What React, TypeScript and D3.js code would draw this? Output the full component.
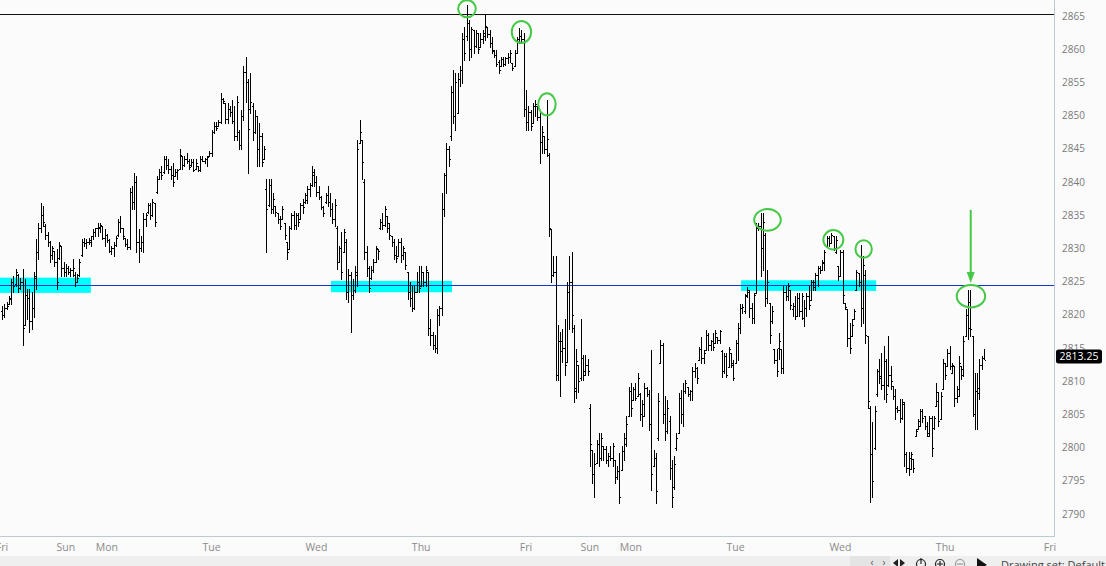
import React from "react";
import * as d3 from "d3";

type OHLC = [number, number, number, number]; // open, high, low, close

// 30-minute bars, Fri (week 1) .. Mon morning
const barsFriToMon: OHLC[] = [
  [2820.5,2821.4,2819.4,2820.0],[2820.0,2821.6,2819.6,2821.0],[2821.0,2821.9,2820.9,2821.4],[2821.6,2822.9,2821.6,2822.6],
  [2822.4,2825.4,2821.6,2824.9],[2824.9,2825.9,2823.4,2824.4],[2824.6,2826.9,2824.4,2826.4],[2826.0,2826.1,2823.4,2824.0],
  [2824.0,2825.6,2823.9,2825.0],[2825.0,2826.9,2815.4,2818.0],[2818.5,2825.4,2818.4,2823.0],[2823.0,2823.9,2819.4,2822.5],
  [2822.5,2823.9,2817.4,2819.0],[2819.0,2823.4,2817.9,2821.0],[2821.0,2826.4,2819.6,2825.9],[2825.5,2831.4,2823.9,2829.5],
  [2829.5,2833.9,2828.4,2833.0],[2833.0,2836.9,2832.4,2835.0],[2835.0,2836.4,2833.4,2834.0],[2833.4,2833.6,2831.4,2832.0],
  [2832.0,2832.4,2830.4,2831.0],[2831.0,2831.1,2827.9,2829.0],[2829.0,2830.4,2828.4,2830.0],[2829.6,2829.6,2827.4,2828.0],
  [2828.0,2829.9,2823.9,2825.0],[2828.5,2830.9,2828.4,2830.5],[2830.4,2830.4,2825.9,2827.0],[2827.0,2827.9,2825.9,2826.5],
  [2826.5,2827.6,2825.9,2827.0],[2827.0,2827.4,2826.1,2826.5],[2826.5,2827.1,2825.9,2826.8],[2826.8,2828.4,2825.9,2827.0],
  [2826.0,2826.4,2824.4,2825.0],[2825.0,2826.1,2824.9,2825.5],[2826.0,2828.4,2825.9,2828.0],[2829.0,2831.4,2828.9,2831.0],
  [2831.0,2831.6,2830.4,2830.8],[2830.8,2831.4,2830.1,2831.0],[2831.0,2831.6,2830.6,2831.3],[2831.0,2831.9,2830.4,2831.8],
  [2831.8,2832.9,2831.4,2832.5],[2832.5,2833.1,2831.9,2833.0],[2833.0,2833.9,2831.9,2833.2],[2833.0,2833.9,2832.4,2833.5],
  [2833.4,2833.4,2831.4,2831.6],[2831.6,2832.9,2830.4,2832.0],[2832.0,2832.1,2830.9,2831.2],[2831.2,2831.4,2829.4,2829.6],
  [2829.6,2830.4,2829.1,2830.0],[2830.0,2830.9,2828.9,2830.5],[2830.5,2831.9,2830.4,2831.5],[2832.0,2834.4,2831.9,2834.0],
  [2834.0,2834.9,2832.4,2833.0],[2833.0,2833.1,2831.4,2831.8],[2831.5,2831.6,2830.4,2830.6],[2830.6,2831.4,2829.9,2830.2],
  [2830.2,2839.1,2829.9,2838.5],[2838.5,2839.4,2835.9,2837.0],[2837.0,2841.4,2835.9,2840.0],[2840.0,2840.9,2829.4,2831.0],
  [2831.0,2832.9,2827.9,2830.0],[2830.0,2831.9,2829.6,2831.0],[2831.0,2835.4,2829.4,2834.5],[2834.5,2835.4,2833.4,2835.0],
  [2835.5,2836.9,2835.4,2836.5],[2836.5,2836.9,2834.4,2835.0],[2835.0,2837.4,2834.9,2837.0],[2836.9,2836.9,2833.4,2834.0],
  [2838.5,2840.9,2838.4,2840.5],[2840.5,2841.9,2840.4,2841.5],[2841.5,2842.4,2840.4,2841.0],[2841.5,2843.9,2841.4,2843.5],
  [2843.5,2843.9,2841.9,2842.5],[2842.5,2843.4,2841.4,2842.0],[2842.0,2842.4,2840.4,2841.0],[2841.0,2842.9,2839.4,2840.0],
  [2840.9,2841.9,2840.9,2841.5],[2841.5,2841.9,2840.4,2841.8],[2842.0,2844.9,2841.9,2844.0],[2843.9,2843.9,2841.9,2842.5],
  [2842.5,2843.9,2842.4,2843.5],[2843.5,2844.4,2842.9,2843.2],[2843.2,2843.4,2841.9,2842.3],[2842.5,2843.4,2842.4,2843.0],
  [2843.0,2843.4,2841.6,2841.8],[2842.0,2843.4,2841.9,2842.8],[2842.4,2842.4,2841.6,2841.8],[2841.8,2843.9,2841.6,2843.5],
  [2843.5,2843.9,2843.1,2843.2],[2843.2,2843.6,2842.9,2843.4],[2843.4,2843.9,2842.4,2843.7],[2843.9,2844.6,2843.9,2844.4],
  [2844.4,2847.9,2843.9,2847.5],[2847.5,2849.1,2847.4,2848.5],[2848.5,2849.1,2847.9,2848.2],[2848.4,2849.4,2848.4,2849.0],
  [2849.0,2853.4,2848.9,2852.5],[2852.5,2852.6,2851.9,2852.2],[2851.9,2851.9,2848.9,2849.5],[2849.5,2851.9,2848.9,2851.0],
  [2851.0,2851.4,2849.9,2850.5],[2850.5,2852.4,2848.9,2849.2],[2849.2,2851.4,2846.4,2847.0],[2847.0,2852.9,2846.4,2852.0],
  [2847.5,2847.9,2844.9,2845.5],[2845.5,2850.9,2844.9,2850.0],[2850.0,2857.4,2849.4,2856.5],[2856.5,2858.9,2852.0,2855.0],
  [2855.0,2855.5,2841.4,2848.0],
];

// Tue .. Thu (week 1)
const barsTueToThu: OHLC[] = [
  [2851.0,2856.4,2850.4,2852.0],[2851.5,2851.9,2846.4,2847.5],[2847.5,2850.9,2847.4,2850.0],[2849.9,2849.9,2842.4,2845.0],
  [2845.0,2848.9,2842.4,2847.0],[2847.0,2847.4,2842.4,2843.0],[2843.5,2845.4,2843.4,2845.0],[2839.0,2840.4,2829.4,2836.0],
  [2836.5,2840.4,2836.4,2839.5],[2839.5,2840.4,2835.4,2836.0],[2836.0,2838.4,2835.4,2837.5],[2836.4,2836.4,2834.9,2835.5],
  [2835.4,2835.4,2833.9,2834.5],[2834.5,2834.9,2832.9,2833.4],[2834.4,2836.4,2834.4,2836.0],[2833.9,2833.9,2831.4,2832.0],
  [2830.9,2830.9,2828.4,2829.5],[2829.9,2833.4,2829.9,2833.0],[2833.0,2835.4,2832.9,2835.0],[2835.0,2835.6,2832.9,2833.5],
  [2833.5,2835.4,2832.9,2835.0],[2835.0,2835.4,2833.4,2834.0],[2834.5,2836.9,2834.4,2836.5],[2836.5,2837.4,2835.4,2836.3],
  [2837.0,2838.4,2836.9,2838.0],[2837.3,2839.4,2836.9,2839.0],[2839.0,2839.9,2837.9,2839.5],[2839.5,2842.4,2839.4,2841.5],
  [2841.0,2841.9,2839.4,2840.0],[2840.0,2840.9,2837.9,2838.5],[2838.5,2839.4,2837.4,2837.8],[2837.8,2837.9,2835.9,2836.3],
  [2836.3,2836.4,2834.9,2835.3],[2837.0,2838.4,2836.9,2838.0],[2838.0,2839.4,2836.4,2837.0],[2837.0,2838.4,2834.9,2836.0],
  [2836.0,2836.9,2833.9,2834.5],[2834.5,2837.4,2833.4,2836.5],[2833.0,2833.4,2826.9,2828.0],[2828.0,2830.4,2827.9,2830.0],
  [2830.0,2832.4,2825.4,2826.5],[2829.5,2832.9,2829.4,2832.5],[2831.0,2831.4,2822.4,2823.5],[2823.5,2826.9,2821.9,2826.0],
  [2826.0,2826.4,2817.4,2823.0],[2823.0,2825.4,2822.4,2823.8],[2823.8,2827.4,2823.4,2826.5],[2826.0,2846.4,2824.4,2845.0],
  [2845.9,2849.4,2845.9,2847.5],[2846.4,2846.4,2840.4,2843.0],[2840.0,2840.4,2828.4,2829.5],[2829.5,2830.4,2825.9,2827.0],
  [2827.0,2827.4,2823.4,2824.0],[2825.5,2827.4,2825.4,2826.8],[2826.8,2828.4,2826.4,2828.0],[2828.0,2830.4,2827.9,2830.0],
  [2829.9,2829.9,2828.4,2829.6],[2833.0,2834.4,2832.9,2834.0],[2834.0,2835.4,2832.9,2833.5],[2833.5,2836.4,2833.4,2836.0],
  [2834.9,2834.9,2832.4,2833.0],[2833.9,2833.9,2831.4,2832.0],[2831.9,2831.9,2830.4,2831.0],[2831.0,2831.4,2828.4,2829.0],
  [2829.0,2830.4,2827.9,2828.5],[2828.9,2831.4,2828.9,2831.0],[2831.0,2831.6,2827.9,2829.0],[2829.0,2830.4,2828.4,2830.0],
  [2829.4,2829.4,2826.9,2827.5],[2826.4,2826.4,2822.4,2823.5],[2823.5,2824.9,2821.4,2822.5],[2822.5,2824.4,2820.6,2821.0],
  [2821.0,2824.4,2820.9,2823.5],[2823.5,2826.4,2823.4,2825.0],[2825.0,2827.4,2823.4,2824.0],[2824.4,2827.4,2824.4,2826.5],
  [2826.4,2826.4,2824.4,2825.0],[2825.0,2827.4,2824.4,2826.8],[2826.4,2826.4,2816.9,2818.0],[2818.0,2819.4,2815.4,2817.0],
  [2817.0,2817.4,2814.9,2815.5],[2815.5,2816.9,2814.4,2815.0],[2815.0,2820.9,2814.2,2820.0],[2820.0,2821.4,2818.4,2821.0],
  [2821.0,2838.4,2819.9,2836.0],[2836.0,2841.4,2834.9,2841.0],[2841.0,2845.9,2838.4,2845.0],[2845.0,2845.4,2842.4,2843.5],
  [2847.0,2854.4,2846.4,2853.5],[2853.5,2856.9,2848.9,2850.0],[2850.0,2856.4,2847.9,2855.0],[2850.4,2856.4,2850.4,2855.5],
  [2855.5,2857.4,2854.4,2856.8],[2856.8,2862.4,2854.9,2861.5],[2861.5,2863.4,2858.4,2859.5],[2862.0,2866.7,2861.4,2864.0],
  [2864.0,2864.4,2858.4,2860.0],[2860.0,2863.4,2858.9,2863.0],[2862.9,2862.9,2859.4,2860.5],[2860.5,2862.9,2860.4,2862.5],
  [2862.4,2862.4,2859.4,2860.0],[2860.4,2862.4,2860.4,2861.5],[2861.5,2862.9,2860.9,2862.5],[2862.0,2865.2,2861.4,2863.5],
  [2863.4,2863.4,2861.9,2862.3],[2862.3,2862.9,2860.4,2861.0],[2861.0,2861.9,2859.4,2859.8],[2859.9,2859.9,2858.9,2859.2],
  [2859.2,2859.9,2857.4,2857.8],[2858.0,2858.4,2856.4,2856.8],
];

// Fri (week 2) .. Mon
const barsFriToMon2: OHLC[] = [
  [2857.5,2858.9,2857.4,2858.5],[2858.5,2858.9,2857.4,2857.8],[2857.8,2858.9,2857.6,2858.6],[2858.6,2859.4,2857.9,2858.8],
  [2858.8,2859.9,2858.1,2859.5],[2857.9,2857.9,2856.9,2857.2],[2857.4,2859.9,2857.4,2859.5],[2859.5,2861.9,2859.4,2861.5],
  [2861.5,2863.2,2860.9,2862.0],[2862.0,2862.9,2860.9,2861.5],[2861.5,2862.4,2849.9,2851.0],[2851.0,2853.9,2847.9,2849.0],
  [2849.0,2851.4,2847.9,2850.5],[2850.5,2850.9,2847.9,2848.5],[2848.9,2851.9,2848.9,2851.5],[2851.5,2852.4,2849.9,2851.8],
  [2851.4,2851.4,2849.4,2849.8],[2849.8,2850.4,2842.9,2846.0],[2846.0,2848.4,2844.4,2847.5],[2846.9,2846.9,2844.4,2845.0],
  [2845.0,2852.4,2843.9,2846.5],[2844.0,2844.4,2831.9,2833.0],[2832.9,2832.9,2824.9,2826.0],[2826.0,2828.9,2825.9,2826.5],
  [2826.5,2828.9,2810.2,2811.0],[2811.0,2818.4,2810.2,2816.0],[2816.0,2817.4,2807.7,2814.5],[2816.0,2817.9,2812.9,2815.0],
  [2815.0,2819.4,2810.9,2812.5],[2812.9,2824.9,2812.9,2823.5],[2823.5,2828.9,2817.9,2825.0],[2825.0,2829.4,2817.4,2820.0],
  [2818.0,2818.4,2806.9,2808.5],[2809.0,2814.9,2807.4,2813.0],[2812.4,2812.4,2808.4,2810.0],[2810.5,2819.4,2810.2,2813.5],
  [2813.5,2813.9,2810.2,2811.0],[2811.5,2813.9,2810.9,2812.5],[2812.5,2813.4,2810.9,2811.5],
  [2806.0,2806.5,2797.2,2800.5],[2799.7,2799.7,2794.7,2796.0],[2796.0,2799.2,2792.6,2797.5],[2797.7,2801.2,2797.7,2800.5],
  [2800.5,2802.2,2797.2,2798.5],[2798.5,2802.2,2798.2,2801.5],[2800.2,2800.2,2798.2,2799.8],[2799.8,2800.2,2797.7,2798.2],
  [2798.2,2799.2,2797.2,2798.8],[2798.8,2800.2,2798.2,2798.5],[2798.5,2800.7,2797.2,2800.2],[2798.2,2798.2,2794.7,2795.5],
  [2795.5,2797.2,2795.2,2796.5],[2796.5,2799.2,2791.6,2792.5],[2796.7,2800.2,2796.7,2799.5],[2799.5,2802.2,2798.2,2801.5],
  [2800.5,2804.7,2800.2,2803.5],[2804.7,2809.2,2804.7,2808.5],[2808.5,2809.7,2804.7,2806.0],[2807.2,2809.2,2807.2,2808.8],
  [2808.8,2809.7,2807.2,2807.5],[2807.7,2811.2,2807.7,2810.5],[2808.0,2808.2,2804.2,2805.0],[2805.0,2807.2,2803.2,2806.5],
  [2804.7,2809.7,2804.7,2809.0],[2809.0,2809.2,2807.7,2808.0],[2808.0,2808.7,2802.7,2803.5],[2803.5,2814.7,2793.6,2796.0],
  [2797.2,2799.7,2797.2,2798.5],[2798.5,2799.2,2791.6,2793.5],[2801.5,2808.2,2801.2,2807.0],[2812.7,2816.2,2812.7,2815.5],
  [2815.5,2815.7,2803.7,2805.0],[2805.0,2807.7,2801.2,2802.5],[2802.5,2807.2,2802.2,2806.0],[2804.0,2804.7,2795.2,2797.0],
  [2797.0,2798.2,2791.1,2792.5],[2794.0,2798.7,2793.7,2797.5],[2800.0,2802.2,2799.7,2801.5],[2802.2,2808.2,2802.2,2807.5],
  [2807.5,2808.7,2803.7,2805.0],[2805.0,2809.7,2803.2,2808.5],[2808.5,2810.2,2808.2,2809.8],[2809.2,2809.2,2807.7,2808.0],
  [2808.0,2808.7,2807.2,2808.5],[2808.5,2812.2,2807.2,2811.5],[2811.5,2812.7,2810.7,2812.0],[2812.0,2812.2,2809.7,2810.5],
  [2813.2,2815.2,2813.2,2814.8],[2814.8,2816.7,2812.7,2813.5],[2813.5,2814.7,2812.7,2814.2],[2814.7,2817.7,2814.7,2817.0],
  [2817.0,2817.2,2814.7,2815.5],[2815.5,2816.2,2814.7,2816.0],[2816.0,2817.2,2814.7,2815.2],[2815.7,2817.7,2815.7,2817.3],
  [2816.7,2816.7,2815.7,2816.2],[2816.2,2817.7,2815.7,2817.5],[2814.5,2814.7,2810.7,2811.5],[2811.5,2814.2,2811.2,2813.8],
  [2813.8,2814.2,2810.7,2811.0],[2812.2,2815.2,2812.2,2814.8],[2814.2,2814.2,2812.2,2812.8],[2812.5,2813.2,2810.2,2810.5],
  [2812.7,2816.2,2812.7,2815.8],[2815.8,2818.7,2813.2,2818.0],[2818.0,2821.7,2817.2,2821.0],[2821.0,2821.7,2820.2,2821.2],
  [2820.5,2823.2,2820.2,2822.8],[2823.0,2824.2,2822.7,2823.8],
];

// Tue .. Wed (week 2)
const barsTueToWed2: OHLC[] = [
  [2823.5,2823.7,2819.7,2821.0],[2821.0,2821.8,2818.8,2819.5],[2819.5,2823.3,2818.8,2823.0],[2823.3,2833.8,2823.3,2833.0],
  [2833.0,2833.8,2832.8,2833.3],[2833.3,2835.3,2825.8,2830.0],[2830.0,2835.3,2826.8,2834.0],[2832.0,2832.3,2821.3,2822.5],
  [2822.5,2826.8,2821.8,2825.0],[2821.8,2821.8,2815.8,2817.0],[2819.0,2821.3,2818.8,2820.5],[2814.8,2814.8,2812.8,2813.2],
  [2813.2,2814.8,2810.8,2811.5],[2815.0,2817.3,2813.3,2816.0],[2814.8,2814.8,2811.3,2812.0],[2812.0,2824.3,2811.3,2823.5],
  [2823.5,2824.3,2822.3,2822.8],[2822.8,2824.8,2822.3,2824.3],[2823.8,2823.8,2820.8,2821.5],[2820.8,2821.8,2819.8,2821.3],
  [2821.3,2822.8,2819.3,2819.8],[2819.8,2823.3,2819.8,2822.5],[2822.5,2823.3,2819.8,2820.5],[2820.5,2823.3,2819.3,2822.8],
  [2819.5,2822.3,2818.3,2821.0],[2821.0,2823.3,2819.8,2822.8],[2822.8,2824.3,2820.8,2821.5],[2822.3,2825.3,2822.3,2825.0],
  [2825.0,2825.3,2823.8,2824.2],[2825.0,2826.3,2823.8,2826.0],[2826.0,2827.3,2824.3,2827.0],[2827.0,2827.3,2826.3,2826.8],
  [2826.8,2828.3,2826.8,2828.0],[2827.8,2829.8,2826.8,2829.5],[2830.3,2831.8,2830.3,2831.5],[2831.5,2831.8,2830.3,2830.8],
  [2830.8,2832.3,2830.8,2832.0],[2831.8,2831.8,2829.8,2830.0],[2829.5,2831.8,2829.3,2831.3],[2827.3,2827.3,2825.3,2825.8],
  [2825.8,2829.8,2825.8,2829.5],[2829.5,2829.8,2821.8,2823.0],[2821.8,2821.8,2820.8,2821.2],[2820.8,2820.8,2815.3,2816.5],
  [2816.5,2818.8,2814.3,2815.0],[2816.8,2819.3,2816.8,2818.5],[2819.3,2820.8,2819.3,2820.5],[2823.8,2826.8,2823.8,2826.5],
  [2826.3,2826.3,2824.3,2825.0],[2825.0,2830.5,2818.3,2821.0],[2821.0,2828.8,2818.8,2827.5],[2826.0,2826.8,2815.8,2817.0],
  [2816.8,2816.8,2806.0,2807.0],[2806.0,2806.3,2791.8,2799.0],[2799.0,2803.8,2792.6,2795.0],[2800.0,2806.3,2799.8,2805.5],
  [2808.0,2811.8,2807.8,2811.5],[2811.5,2813.3,2809.8,2810.5],[2810.8,2814.3,2808.8,2809.5],[2809.5,2815.3,2807.3,2813.0],
  [2813.0,2813.3,2806.8,2808.0],[2809.5,2816.8,2809.3,2811.0],[2811.0,2812.3,2808.8,2810.0],[2809.3,2809.3,2807.3,2807.8],
  [2807.8,2808.8,2804.3,2806.0],
];

// Wed .. Thu (week 2)
const barsWedToThu2: OHLC[] = [
  [2806.0,2806.3,2805.3,2805.6],[2805.6,2807.3,2803.8,2804.5],[2804.5,2807.3,2804.3,2806.8],[2806.5,2806.8,2797.3,2799.0],
  [2799.0,2799.3,2796.3,2797.0],[2797.0,2799.3,2795.8,2798.5],[2796.8,2799.3,2796.8,2799.0],[2798.3,2798.3,2796.3,2797.0],
  [2801.8,2802.8,2801.8,2802.5],[2802.8,2804.3,2802.8,2804.0],[2803.3,2805.8,2803.3,2805.5],[2805.5,2805.8,2803.8,2804.5],
  [2804.8,2804.8,2802.8,2803.3],[2803.3,2803.8,2801.8,2802.2],[2801.8,2804.8,2801.8,2804.5],[2804.5,2804.8,2798.8,2800.0],
  [2803.0,2804.8,2802.8,2804.5],[2806.3,2809.8,2806.3,2807.0],[2808.3,2808.3,2803.3,2804.0],[2804.3,2808.3,2804.3,2807.8],
  [2808.8,2813.3,2808.8,2812.8],[2812.8,2812.8,2810.3,2811.0],[2812.3,2814.8,2812.3,2814.3],[2814.3,2815.3,2811.8,2812.3],
  [2811.3,2812.8,2811.3,2812.5],[2812.3,2812.3,2806.3,2807.5],[2807.5,2809.3,2806.8,2808.8],[2807.8,2813.8,2807.8,2812.8],
  [2812.3,2812.3,2810.3,2811.0],[2811.8,2816.8,2810.8,2816.0],[2816.8,2820.8,2816.8,2820.0],[2820.0,2823.8,2816.3,2818.0],
  [2822.0,2823.8,2816.8,2817.8],[2816.8,2816.8,2804.8,2805.0],[2805.0,2811.3,2802.8,2808.5],[2808.5,2811.3,2802.8,2809.0],
  [2808.2,2813.3,2807.3,2812.5],[2812.5,2813.8,2811.8,2813.5],[2813.5,2814.8,2813.3,2813.25],
];

const dayLabels = ["Fri", "Sun", "Mon", "Tue", "Wed", "Thu", "Fri", "Sun", "Mon", "Tue", "Wed", "Thu", "Fri"];
const dayLabelBars = [0, 28, 46, 92, 138, 184, 230, 258, 276, 322, 368, 414, 460];
const priceTicks = d3.range(2790, 2866, 5);
const lastPrice = 2813.25;

const levelPrices = [2865.25, 2824.5];
const zoneStartBar = [-1, 144.4, 324.4];
const zoneEndBar = [39, 197.5, 383.7];
const zoneTop = [2825.6, 2825.1, 2825.2];
const zoneBottom = [2823.3, 2823.4, 2823.6];

const markBar = [204.1, 228.0, 239.2, 336.0, 364.9, 378.2, 425.3];
const markPrice = [2866.1, 2862.6, 2851.7, 2834.3, 2831.3, 2829.9, 2822.8];
const arrowBar = 425.2;
const arrowFromPrice = 2835.8;
const arrowToPrice = 2824.8;

// styles
const markRadii: [number, number][] = [[8.8, 8.5], [9.7, 11], [8.7, 11], [13.3, 10.8], [10, 9.7], [8.2, 8.8], [14.2, 11.2]];
const GREEN = "#46c846";
const FONT = "'Open Sans', 'DejaVu Sans', sans-serif";

export default function App() {
  const W = 1106;
  const H = 566;
  const plotR = 1054;
  const plotB = 536;

  const bars: OHLC[] = [...barsFriToMon, ...barsTueToThu, ...barsFriToMon2, ...barsTueToWed2, ...barsWedToThu2];

  const x = d3.scaleLinear().domain([0, 460]).range([2, 1050]);
  const y = d3.scaleLinear().domain([2790, 2865]).range([514, 16]);

  let barPath = "";
  bars.forEach((b, i) => {
    const [o, h, l, c] = b;
    const px = Math.round(x(i));
    const yh = Math.round(y(h));
    const yl = Math.round(y(l));
    const yo = Math.round(y(o));
    const yc = Math.round(y(c));
    barPath += `M${px},${yh}h1v${Math.max(1, yl - yh + 1)}h-1Z`;
    barPath += `M${px - 1},${yo}h1v1h-1Z`;
    barPath += `M${px + 1},${yc}h1v1h-1Z`;
  });

  const ax = x(arrowBar);
  const ay0 = y(arrowFromPrice);
  const ay1 = y(arrowToPrice);
  const yLast = y(lastPrice) - 3;

  return (
    <svg width={W} height={H} style={{ position: "absolute", left: 0, top: 0, display: "block" }} fontFamily={FONT}>
      <defs>
        <clipPath id="plotClip">
          <rect x={0} y={0} width={plotR} height={plotB} />
        </clipPath>
      </defs>
      <rect x={0} y={0} width={W} height={H} fill="#fbfbfb" />

      <g clipPath="url(#plotClip)">
        {zoneStartBar.map((s, i) => (
          <rect
            key={"z" + i}
            x={x(s)}
            y={y(zoneTop[i])}
            width={x(zoneEndBar[i]) - x(s)}
            height={y(zoneBottom[i]) - y(zoneTop[i])}
            fill="#00ffff"
          />
        ))}
        {levelPrices.map((p, i) => (
          <line
            key={"l" + i}
            x1={0}
            x2={plotR}
            y1={Math.round(y(p)) + 0.5}
            y2={Math.round(y(p)) + 0.5}
            stroke={i === 0 ? "#111111" : "#1438c8"}
            strokeWidth={1}
          />
        ))}
        <path d={barPath} fill="#000" shapeRendering="crispEdges" />
        {markBar.map((b, i) => (
          <ellipse
            key={"m" + i}
            cx={x(b)}
            cy={y(markPrice[i])}
            rx={markRadii[i][0]}
            ry={markRadii[i][1]}
            fill="none"
            stroke={GREEN}
            strokeWidth={2}
          />
        ))}
        <line x1={ax} x2={ax} y1={ay0} y2={ay1 - 10} stroke={GREEN} strokeWidth={2} />
        <path d={`M${ax - 4},${ay1 - 11}L${ax + 4},${ay1 - 11}L${ax},${ay1}Z`} fill={GREEN} />
      </g>

      {/* axis borders */}
      <line x1={plotR + 0.5} x2={plotR + 0.5} y1={0} y2={plotB + 0.5} stroke="#bccbcd" strokeWidth={1} />
      <line x1={0} x2={plotR + 0.5} y1={plotB + 0.5} y2={plotB + 0.5} stroke="#bccbcd" strokeWidth={1} />

      {priceTicks.map((p) => (
        <text key={"t" + p} x={1062} y={y(p)} dy="0.35em" fontSize={10} fill="#7a7a7a">
          {p}
        </text>
      ))}

      {dayLabels.map((d, i) => (
        <text key={"d" + i} x={x(dayLabelBars[i])} y={547} dy="0.35em" fontSize={10.5} fill="#8a8a8a" textAnchor="middle">
          {d}
        </text>
      ))}

      {/* last price marker */}
      <rect x={1056} y={yLast - 7} width={46} height={14} rx={2.5} fill="#000" />
      <text x={1079} y={yLast} dy="0.35em" fontSize={10.5} fill="#fff" textAnchor="middle">
        {lastPrice.toFixed(2)}
      </text>

      {/* bottom toolbar */}
      <rect x={0} y={556} width={W} height={10} fill="#efefef" />
      <rect x={850} y={556} width={40} height={10} fill="#e4e4e4" />
      <text x={872} y={566} fontSize={10} fill="#555" textAnchor="middle">‹</text>
      <text x={884} y={566} fontSize={10} fill="#555" textAnchor="middle">›</text>
      <path d="M893,563 L898,559 L898,567 Z M905,563 L900,559 L900,567 Z" fill="#222" />
      <circle cx={921} cy={564} r={4.5} fill="none" stroke="#222" strokeWidth={1.2} />
      <line x1={921} x2={921} y1={558} y2={564} stroke="#222" strokeWidth={1.2} />
      <circle cx={940} cy={564} r={4.5} fill="none" stroke="#222" strokeWidth={1.2} />
      <path d="M937,564H943M940,561V567" stroke="#222" strokeWidth={1.2} />
      <circle cx={960} cy={564} r={4.5} fill="none" stroke="#999" strokeWidth={1.2} />
      <path d="M957,564H963" stroke="#999" strokeWidth={1.2} />
      <path d="M977,558 L987,565 L977,570 Z" fill="#111" />
      <text x={1001} y={569} fontSize={11} fill="#444">Drawing set: Default</text>
    </svg>
  );
}
